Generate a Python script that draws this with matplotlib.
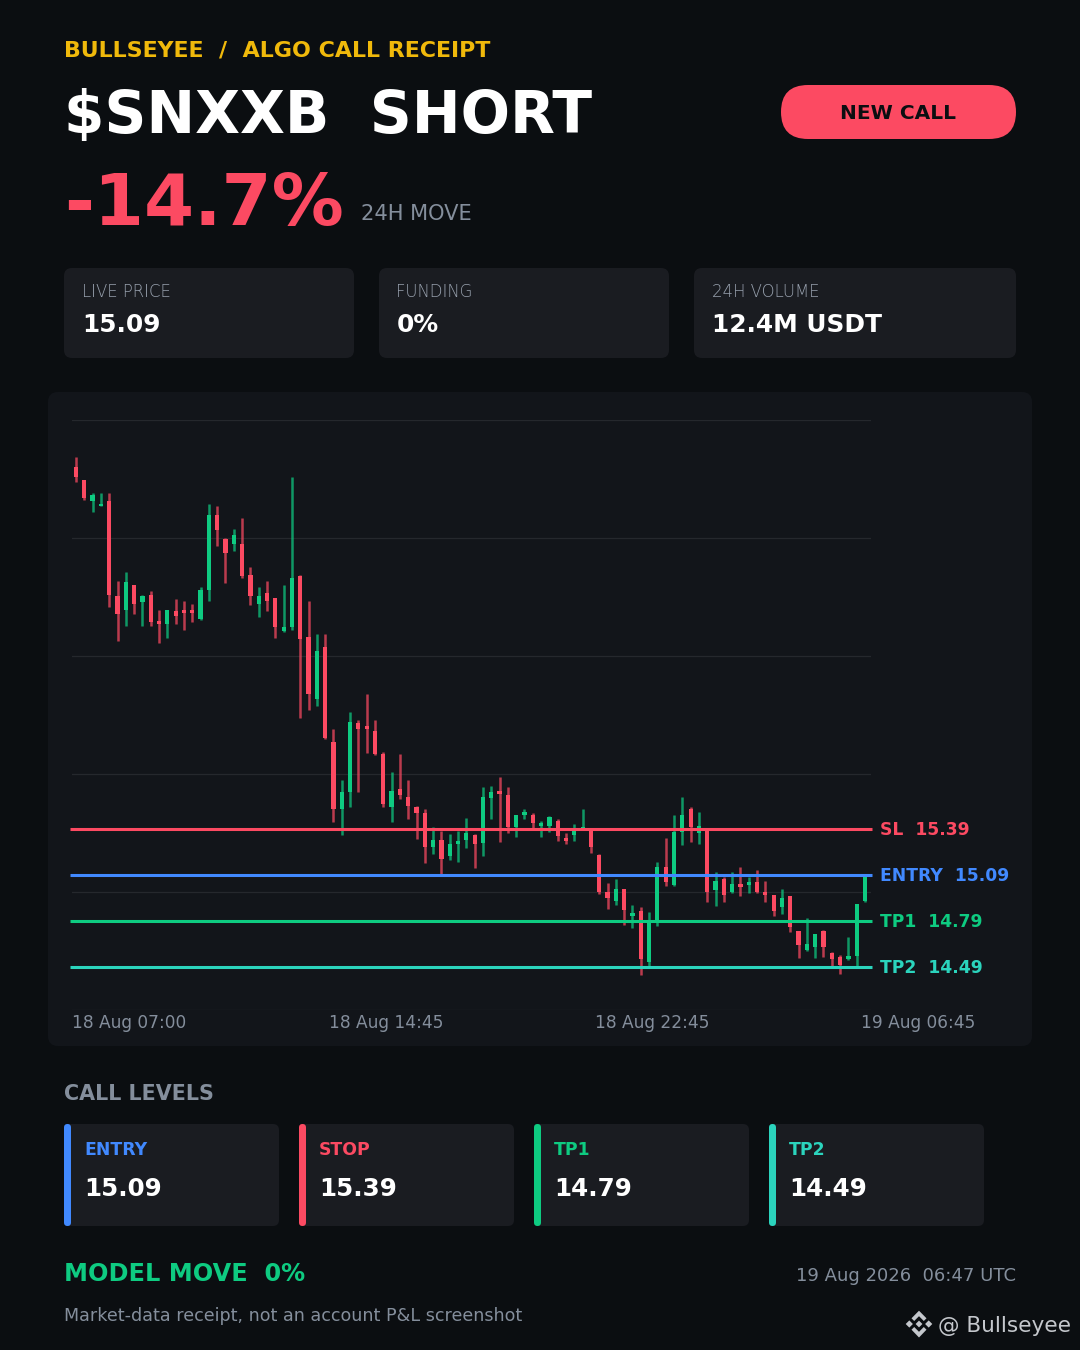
import numpy as np
import matplotlib
matplotlib.use("Agg")
import matplotlib.pyplot as plt
from matplotlib import font_manager as fm
from matplotlib.patches import FancyBboxPatch, Polygon

plt.rcParams['font.family'] = ['DejaVu Sans']

opens = [17.749,17.665,17.528,17.498,17.528,16.909,16.818,16.981,16.870,16.916,16.747,16.727,16.812,16.818,16.818,16.760,
         16.948,17.437,17.280,17.248,17.248,17.046,16.857,16.929,16.896,16.682,16.708,17.040,16.642,16.239,16.577,15.959,
         15.523,15.634,16.083,16.063,16.031,15.881,15.536,15.653,15.601,15.536,15.497,15.276,15.321,15.217,15.295,15.321,
         15.354,15.302,15.595,15.640,15.614,15.406,15.484,15.484,15.412,15.412,15.445,15.334,15.354,15.393,15.397,15.223,
         14.983,14.924,15.002,14.826,14.859,14.527,14.787,15.145,15.026,15.375,15.523,15.367,15.390,14.996,15.067,14.983,
         15.035,15.028,15.048,14.983,14.963,14.885,14.956,14.729,14.603,14.625,14.729,14.585,14.559,14.546,14.566,14.926]
highs = [17.816,17.665,17.582,17.582,17.582,17.009,17.068,16.983,16.918,16.944,16.820,16.818,16.892,16.879,16.860,16.970,
         17.510,17.498,17.289,17.348,17.419,17.100,16.970,17.009,16.896,16.983,17.686,17.048,16.879,16.664,16.664,16.046,
         15.714,16.157,16.105,16.274,16.105,15.896,15.766,15.883,15.714,15.540,15.525,15.408,15.378,15.358,15.382,15.467,
         15.358,15.668,15.675,15.734,15.668,15.486,15.525,15.499,15.447,15.475,15.454,15.367,15.427,15.525,15.400,15.226,
         15.039,15.069,15.004,14.900,14.887,14.848,15.180,15.336,15.486,15.603,15.538,15.506,15.390,15.115,15.076,15.115,
         15.147,15.082,15.128,15.050,14.963,15.004,14.956,14.729,14.809,14.709,14.737,14.588,14.568,14.685,14.904,15.090]
lows = [17.656,17.539,17.461,17.498,16.840,16.614,16.712,16.790,16.718,16.712,16.601,16.640,16.731,16.692,16.738,16.751,
        16.881,17.239,16.992,17.207,17.031,16.849,16.771,16.810,16.640,16.673,16.692,16.113,16.165,16.191,15.976,15.436,
        15.356,15.534,15.631,15.885,15.872,15.534,15.436,15.586,15.456,15.325,15.169,15.228,15.091,15.193,15.176,15.267,
        15.137,15.215,15.456,15.306,15.365,15.339,15.456,15.397,15.343,15.375,15.312,15.293,15.312,15.385,15.234,14.967,
        14.870,14.896,14.766,14.746,14.440,14.486,14.759,15.019,15.019,15.286,15.306,15.293,14.915,14.889,14.915,14.974,
        14.954,14.974,14.974,14.915,14.824,14.837,14.720,14.551,14.596,14.551,14.557,14.496,14.447,14.538,14.490,14.915]
closes = [17.686,17.547,17.567,17.513,16.916,16.792,17.001,16.857,16.909,16.740,16.727,16.818,16.779,16.799,16.799,16.948,
          17.437,17.339,17.189,17.306,17.040,16.909,16.909,16.877,16.708,16.708,17.027,16.629,16.271,16.551,15.985,15.523,
          15.634,16.089,16.044,16.044,15.881,15.555,15.640,15.614,15.543,15.497,15.276,15.321,15.197,15.295,15.315,15.367,
          15.295,15.601,15.634,15.621,15.406,15.484,15.503,15.430,15.432,15.471,15.347,15.315,15.380,15.406,15.276,14.983,
          14.944,15.002,14.865,14.846,14.546,14.783,15.145,15.048,15.375,15.484,15.406,15.412,14.983,15.054,14.963,15.035,
          15.015,15.048,14.983,14.963,14.859,14.944,14.755,14.637,14.644,14.709,14.625,14.546,14.505,14.566,14.904,15.090]

tick_index = [0, 31, 63, 95]
tick_labels = ['18 Aug 07:00', '18 Aug 14:45', '18 Aug 22:45', '19 Aug 06:45']
level_names = ['SL', 'ENTRY', 'TP1', 'TP2']
level_values = [15.39, 15.09, 14.79, 14.49]
card_titles = ['LIVE PRICE', 'FUNDING', '24H VOLUME']
card_values = ['15.09', '0%', '12.4M USDT']
call_titles = ['ENTRY', 'STOP', 'TP1', 'TP2']
call_values = ['15.09', '15.39', '14.79', '14.49']

BG = '#0B0E11'; PANEL = '#12151A'; CARD = '#1A1C21'
RED = '#FC4A62'; GREEN = '#0ECB81'; BLUE = '#4189FF'; TEAL = '#2BD4BD'; GOLD = '#F0B90B'
GREY = '#848E9C'; WHITE = '#FFFFFF'
level_colors = [RED, BLUE, GREEN, TEAL]
call_colors = [BLUE, RED, GREEN, TEAL]

# thin face for the small card captions, if one is installed
thin = None
for fam in ['DejaVu Sans', 'Lato', 'Open Sans', 'Noto Sans', 'Roboto']:
    if any(f.name == fam and isinstance(f.weight, (int, float)) and f.weight <= 300 or
           (f.name == fam and f.weight in ('light', 'extra light', 'ultralight')) for f in fm.fontManager.ttflist):
        thin = fam
        break

fig = plt.figure(figsize=(10.8, 13.5), dpi=100, facecolor=BG)
ui = fig.add_axes([0, 0, 1, 1], zorder=1)
ui.set_xlim(0, 1080); ui.set_ylim(1350, 0); ui.axis('off')

def px(size):
    return size * 0.72

def box(x0, y0, x1, y1, r, color, z=1):
    ui.add_patch(FancyBboxPatch((x0 + r, y0 + r), x1 - x0 - 2 * r, y1 - y0 - 2 * r,
                                boxstyle=f"round,pad={r},rounding_size={r}",
                                fc=color, ec='none', zorder=z))

def label(x, y, s, size, color, weight='normal', ha='left', **kw):
    ui.text(x, y, s, fontsize=px(size), color=color, fontweight=weight, ha=ha, va='baseline', zorder=5, **kw)

label(64, 57, 'BULLSEYEE  /  ALGO CALL RECEIPT', 22.1, GOLD, 'bold')
label(64, 133, '$SNXXB  SHORT', 58.3, WHITE, 'bold')
label(64, 225, '-14.7%', 72, RED, 'bold')
label(361, 220, '24H MOVE', 21, GREY)
box(781, 85, 1016, 139, 27, RED)
label(898.5, 119, 'NEW CALL', 20.2, BG, 'bold', ha='center')

for x0, x1, t, v in zip([64, 379, 694], [354, 669, 1016], card_titles, card_values):
    box(x0, 268, x1, 358, 8, CARD)
    if thin:
        label(x0 + 17.5, 297, t, 16.5, '#98A1AE', 'light', family=thin)
    else:
        label(x0 + 17.5, 297, t, 16.2, GREY, alpha=0.8)
    label(x0 + 18, 332.5, v, 24.9, WHITE, 'bold')

box(48, 392, 1032, 1046, 10, PANEL)

label(64, 1100, 'CALL LEVELS', 20.6, GREY, 'bold')
for x0, t, v, c in zip([64, 299, 534, 769], call_titles, call_values, call_colors):
    box(x0, 1124, x0 + 215, 1226, 6, CARD)
    box(x0, 1124, x0 + 7, 1226, 3.5, c, z=2)
    label(x0 + 20, 1155, t, 17.3, c, 'bold')
    label(x0 + 20, 1195.5, v, 24.6, WHITE, 'bold')

label(64, 1281, 'MODEL MOVE  0%', 24, GREEN, 'bold')
label(1016, 1281, '19 Aug 2026  06:47 UTC', 18, GREY, ha='right')
label(64, 1321, 'Market-data receipt, not an account P&L screenshot', 17.5, GREY)

# watermark
lc = '#C4C7CC'
label(938, 1332, '@ Bullseyee', 21.6, lc)
def diamond(cx, cy, r):
    ui.add_patch(Polygon([(cx - r, cy), (cx, cy - r), (cx + r, cy), (cx, cy + r)], fc=lc, ec='none', zorder=5))
diamond(919, 1324, 3.4); diamond(909.3, 1324, 3.6); diamond(928.7, 1324, 3.6)
ui.add_patch(Polygon([(911.5, 1318.3), (919, 1310.7), (926.5, 1318.3), (923.8, 1321), (919, 1316.2), (914.2, 1321)], fc=lc, ec='none', zorder=5))
ui.add_patch(Polygon([(911.5, 1329.7), (919, 1337.5), (926.5, 1329.7), (923.8, 1327), (919, 1331.8), (914.2, 1327)], fc=lc, ec='none', zorder=5))

# chart
X0, X1, Y0, Y1 = 72, 871, 420, 1010
STEP = 8.305
YMIN, YMAX = 14.2125, 18.0575
ax = fig.add_axes([X0 / 1080, 1 - Y1 / 1350, (X1 - X0) / 1080, (Y1 - Y0) / 1350], zorder=2)
ax.patch.set_alpha(0)
ax.set_xlim(-0.48, 95.72)
ax.set_ylim(YMIN, YMAX)
for s in ax.spines.values():
    s.set_visible(False)
ax.set_yticks(np.linspace(YMIN, YMAX, 6))
ax.set_yticklabels([])
ax.grid(axis='y', color='#25282D', lw=0.9, zorder=0)
ax.set_axisbelow(True)
ax.tick_params(length=0)
ax.set_xticks(np.array(tick_index) - 0.48)
ax.set_xticklabels(tick_labels, ha='left', fontsize=px(17), color=GREY)
ax.tick_params(axis='x', pad=3)

o, h, l, c = map(np.array, (opens, highs, lows, closes))
idx = np.arange(len(o))
colors = np.where(c >= o, GREEN, RED)
ax.vlines(idx, l, h, colors=colors, lw=1.8, alpha=0.72, zorder=3)
ax.bar(idx, np.abs(c - o), bottom=np.minimum(o, c), width=4.2 / STEP, color=colors, lw=0, zorder=4)

for name, val, col in zip(level_names, level_values, level_colors):
    ax.hlines(val, -0.68, 95.85, colors=col, lw=2.2, zorder=5, clip_on=False)
    ax.annotate(f'{name}  {val:.2f}', xy=(1, val), xycoords=('axes fraction', 'data'),
                xytext=(6.5, -0.5), textcoords='offset points', va='center', ha='left',
                fontsize=px(17.1), fontweight='bold', color=col, annotation_clip=False)

fig.savefig('out.png', dpi=100, facecolor=BG)
